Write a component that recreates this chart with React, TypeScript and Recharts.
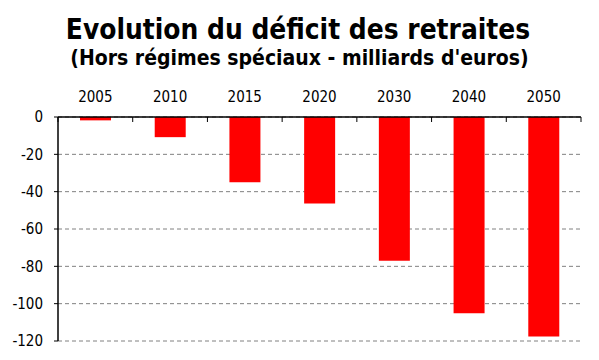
import React from "react";
import { Bar, BarChart, CartesianGrid, XAxis, YAxis } from "recharts";

const years = ["2005", "2010", "2015", "2020", "2030", "2040", "2050"];
const deficit = [-1.8, -10.8, -35, -46.4, -77, -105.2, -117.6];
const yTicks = [0, -20, -40, -60, -80, -100, -120];

const title = "Evolution du déficit des retraites";
const subtitle = "(Hors régimes spéciaux - milliards d'euros)";

const font = 'Tahoma, "DejaVu Sans Condensed", "DejaVu Sans", sans-serif';

const WIDTH = 599;
const HEIGHT = 360;
const margin = { top: 87, right: 18, left: 0, bottom: 19 };
const yAxisWidth = 58;
const band = (WIDTH - margin.left - margin.right - yAxisWidth) / years.length;
const labelGap = 15;

const data = years.map((year, i) => ({ year, value: deficit[i] }));

// year label above the zero line, plus small boundary ticks hanging below it
function YearTick({ x, y, payload, index }: any) {
	const axisY = y + labelGap;
	const left = x - band / 2;
	return (
		<g>
			<text x={x} y={y} textAnchor="middle" fontFamily={font} fontSize={15} fill="#000">
				{payload.value}
			</text>
			<line x1={left} x2={left} y1={axisY} y2={axisY + 5} stroke="#000" />
			{index === years.length - 1 && (
				<line x1={left + band} x2={left + band} y1={axisY} y2={axisY + 5} stroke="#000" />
			)}
		</g>
	);
}

export default function App() {
	return (
		<div style={{ position: "absolute", left: 0, top: 0, width: WIDTH, height: HEIGHT, background: "#fff" }}>
			<BarChart width={WIDTH} height={HEIGHT} data={data} margin={margin} barSize={31}>
				<CartesianGrid vertical={false} stroke="#808080" strokeDasharray="4 3" />
				<XAxis
					dataKey="year"
					orientation="top"
					height={30}
					axisLine={{ stroke: "#000", strokeWidth: 1.5 }}
					tickLine={false}
					tickSize={6}
					tickMargin={9}
					tick={<YearTick />}
					interval={0}
				/>
				<YAxis
					domain={[-120, 0]}
					ticks={yTicks}
					width={yAxisWidth}
					interval={0}
					axisLine={{ stroke: "#000", strokeWidth: 1.5 }}
					tickLine={{ stroke: "#000" }}
					tickSize={4}
					tickMargin={11}
					tick={{ fill: "#000", fontSize: 15, fontFamily: font }}
				/>
				<Bar dataKey="value" fill="#ff0000" isAnimationActive={false} />
			</BarChart>
			<svg
				width={WIDTH}
				height={80}
				style={{ position: "absolute", left: 0, top: 0, pointerEvents: "none" }}
			>
				<text x={298} y={39} textAnchor="middle" fontFamily={font} fontWeight="bold" fontSize={27.8} fill="#000">
					{title}
				</text>
				<text x={299.5} y={65} textAnchor="middle" fontFamily={font} fontWeight="bold" fontSize={21} fill="#000">
					{subtitle}
				</text>
			</svg>
		</div>
	);
}
